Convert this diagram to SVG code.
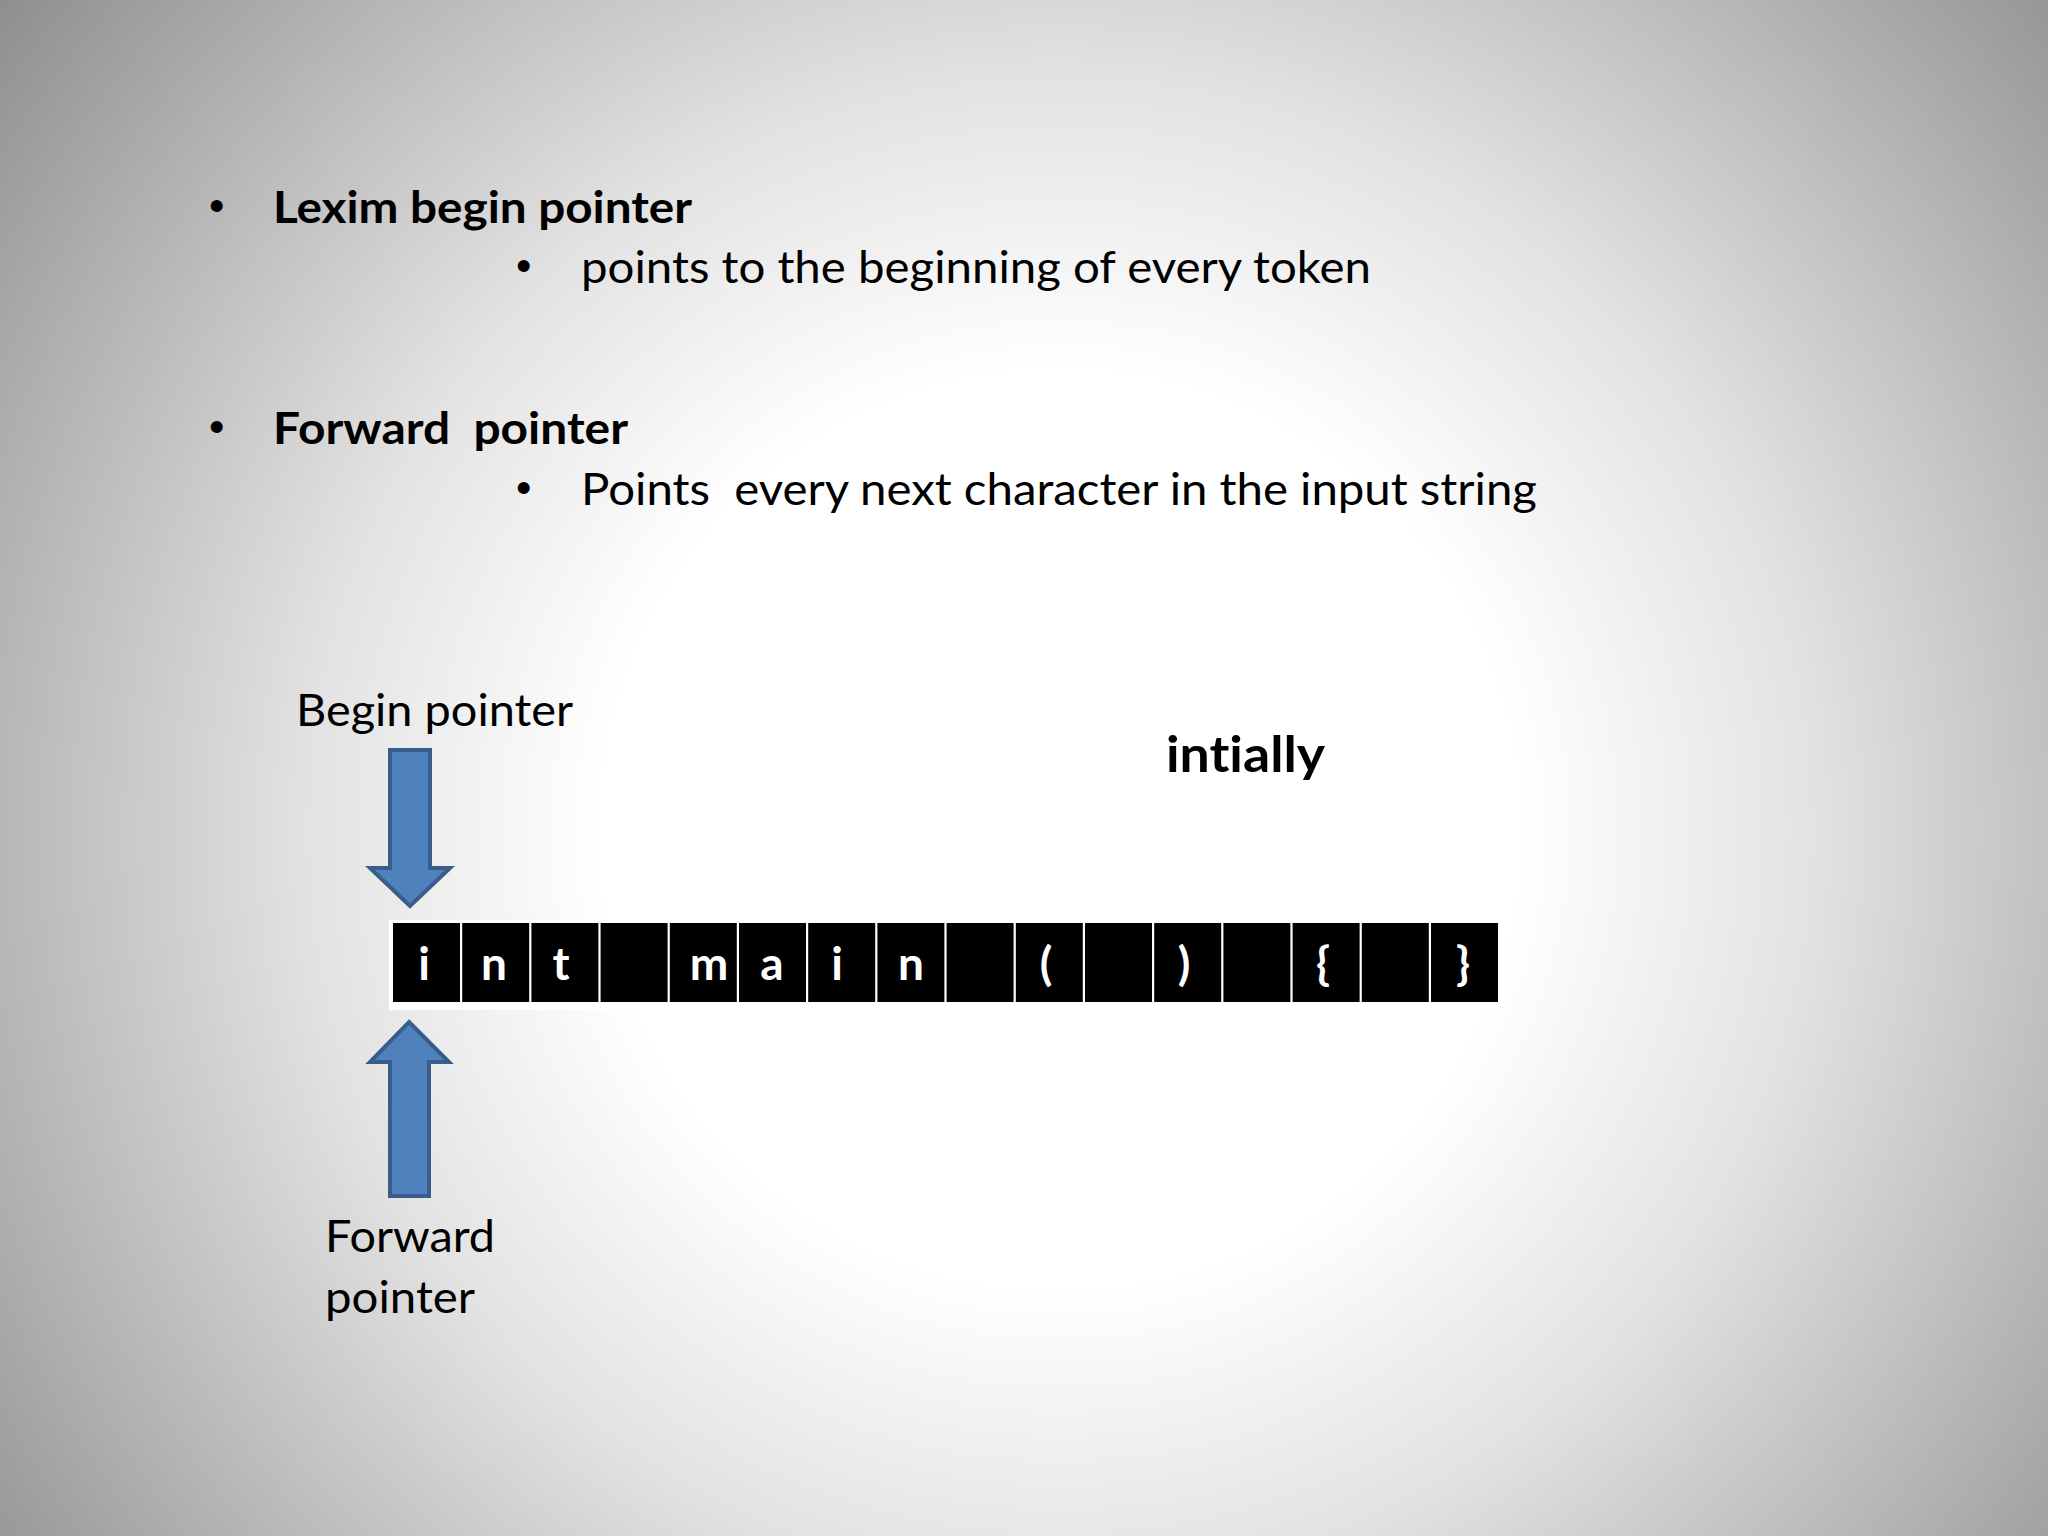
<svg xmlns="http://www.w3.org/2000/svg" width="2048" height="1536" viewBox="0 0 2048 1536">
  <defs>
    <radialGradient id="bg" gradientUnits="userSpaceOnUse" cx="1060" cy="830" r="1350">
      <stop offset="0" stop-color="#ffffff"/>
      <stop offset="0.34" stop-color="#ffffff"/>
      <stop offset="0.56" stop-color="#e2e2e2"/>
      <stop offset="0.8" stop-color="#b4b4b4"/>
      <stop offset="1" stop-color="#8e8e8e"/>
    </radialGradient>
    <style>
      .t { font-family: Lato, "Open Sans", "Liberation Sans", sans-serif; fill: #000; font-variant-ligatures: none; font-feature-settings: "liga" 0, "clig" 0, "dlig" 0; }
      .b { font-weight: bold; }
      .dot { font-family: "Liberation Sans", sans-serif; font-size: 44px; fill: #000; }
      .cell { fill: #000; }
      .ch { font-family: Lato, "Open Sans", "Liberation Sans", sans-serif; font-weight: bold; font-size: 46px; fill: #fff; text-anchor: middle; }
      .arrow { fill: #4f81bd; stroke: #385d8a; stroke-width: 4; stroke-linejoin: miter; }
    </style>
  </defs>
  <rect x="0" y="0" width="2048" height="1536" fill="url(#bg)"/>

  <g id="bullet-lexim">
    <text class="dot" x="209" y="221">•</text>
    <text class="t b" x="273" y="223" font-size="44" textLength="419" lengthAdjust="spacingAndGlyphs">Lexim begin pointer</text>
  </g>
  <g id="sub-lexim">
    <text class="dot" x="516" y="281">•</text>
    <text class="t" x="581" y="283" font-size="44" textLength="790" lengthAdjust="spacingAndGlyphs">points to the beginning of every token</text>
  </g>
  <g id="bullet-forward">
    <text class="dot" x="209" y="442">•</text>
    <text class="t b" x="273" y="444" font-size="44" textLength="355" lengthAdjust="spacingAndGlyphs" xml:space="preserve">Forward  pointer</text>
  </g>
  <g id="sub-forward">
    <text class="dot" x="516" y="503">•</text>
    <text class="t" x="581" y="505" font-size="44" textLength="956" lengthAdjust="spacingAndGlyphs" xml:space="preserve">Points  every next character in the input string</text>
  </g>

  <g id="label-initially">
    <text class="t b" x="1166" y="772" font-size="50" textLength="159" lengthAdjust="spacingAndGlyphs">intially</text>
  </g>

  <g id="label-begin">
    <text class="t" x="296" y="726" font-size="44" textLength="277" lengthAdjust="spacingAndGlyphs">Begin pointer</text>
  </g>
  <g id="arrow-begin">
    <polygon class="arrow" points="390,750 430,750 430,868 450,868 410,906 370,868 390,868"/>
  </g>

  <g id="strip">
    <rect x="389" y="920" width="1114" height="90" fill="#ffffff"/>
    <g id="cell-0"><rect class="cell" x="393" y="923" width="67" height="79"/><text class="ch" x="424" y="980">i</text></g>
    <g id="cell-1"><rect class="cell" x="462.2" y="923" width="67" height="79"/><text class="ch" x="494" y="980">n</text></g>
    <g id="cell-2"><rect class="cell" x="531.4" y="923" width="67" height="79"/><text class="ch" x="561" y="980">t</text></g>
    <g id="cell-3"><rect class="cell" x="600.6" y="923" width="67" height="79"/></g>
    <g id="cell-4"><rect class="cell" x="669.8" y="923" width="67" height="79"/><text class="ch" x="709" y="980">m</text></g>
    <g id="cell-5"><rect class="cell" x="739" y="923" width="67" height="79"/><text class="ch" x="772" y="980">a</text></g>
    <g id="cell-6"><rect class="cell" x="808.2" y="923" width="67" height="79"/><text class="ch" x="837" y="980">i</text></g>
    <g id="cell-7"><rect class="cell" x="877.4" y="923" width="67" height="79"/><text class="ch" x="911" y="980">n</text></g>
    <g id="cell-8"><rect class="cell" x="946.6" y="923" width="67" height="79"/></g>
    <g id="cell-9"><rect class="cell" x="1015.8" y="923" width="67" height="79"/><text class="ch" x="1046" y="980">(</text></g>
    <g id="cell-10"><rect class="cell" x="1085" y="923" width="67" height="79"/></g>
    <g id="cell-11"><rect class="cell" x="1154.2" y="923" width="67" height="79"/><text class="ch" x="1184" y="980">)</text></g>
    <g id="cell-12"><rect class="cell" x="1223.4" y="923" width="67" height="79"/></g>
    <g id="cell-13"><rect class="cell" x="1292.6" y="923" width="67" height="79"/><text class="ch" x="1323" y="980">{</text></g>
    <g id="cell-14"><rect class="cell" x="1361.8" y="923" width="67" height="79"/></g>
    <g id="cell-15"><rect class="cell" x="1431" y="923" width="67" height="79"/><text class="ch" x="1463" y="980">}</text></g>
  </g>

  <g id="arrow-forward">
    <polygon class="arrow" points="409,1022 449,1062 429,1062 429,1196 390,1196 390,1062 370,1062"/>
  </g>
  <g id="label-forward">
    <text class="t" x="325" y="1252" font-size="44" textLength="170" lengthAdjust="spacingAndGlyphs">Forward</text>
    <text class="t" x="325" y="1313" font-size="44" textLength="150" lengthAdjust="spacingAndGlyphs">pointer</text>
  </g>
  <g id="connectors"/>
</svg>
